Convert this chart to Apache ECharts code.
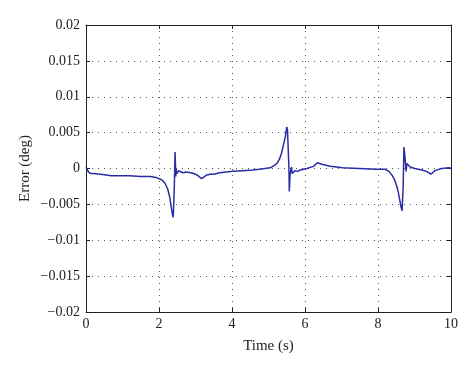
<!DOCTYPE html>
<html><head><meta charset="utf-8">
<script src="https://cdn.jsdelivr.net/npm/echarts@6/dist/echarts.min.js"></script>
<style>html,body{margin:0;padding:0;background:#fff}#c{width:474px;height:372px}</style>
</head><body><div id="c"></div>
<script>
// Time samples (s) and error values (deg)
var time = [0, 0.04, 0.07, 0.1, 0.13, 0.2, 0.4, 0.7, 1.2, 1.5, 1.76, 1.95, 2.08, 2.17, 2.24, 2.29, 2.33, 2.36, 2.39, 2.42, 2.44, 2.45, 2.46, 2.47, 2.49, 2.54, 2.6, 2.67, 2.75, 2.86, 2.95, 3.04, 3.17, 3.31, 3.4, 3.5, 3.66, 4.02, 4.3, 4.57, 4.75, 4.9, 5.05, 5.15, 5.23, 5.3, 5.36, 5.41, 5.46, 5.5, 5.52, 5.56, 5.57, 5.59, 5.63, 5.65, 5.73, 5.8, 5.87, 6.05, 6.23, 6.34, 6.46, 6.69, 7.03, 7.49, 7.94, 8.19, 8.3, 8.38, 8.45, 8.51, 8.56, 8.6, 8.63, 8.66, 8.69, 8.71, 8.73, 8.77, 8.79, 8.88, 9.01, 9.2, 9.33, 9.45, 9.56, 9.74, 9.95, 10];
var errorDeg = [0.0002, 0.0001, -0.0005, -0.0003, -0.0007, -0.0007, -0.0008, -0.001, -0.001, -0.0011, -0.0011, -0.0013, -0.0016, -0.0021, -0.0029, -0.0039, -0.0052, -0.0062, -0.0068, -0.0025, 0.0023, 0.0008, -0.0011, -0.0001, -0.0007, -0.0003, -0.0005, -0.0006, -0.0005, -0.0006, -0.0007, -0.0009, -0.0014, -0.0009, -0.0008, -0.0008, -0.0006, -0.0004, -0.0003, -0.0002, -0.0001, 0.0, 0.0001, 0.0004, 0.0007, 0.0013, 0.0022, 0.0033, 0.0044, 0.0058, 0.0054, 0.0, -0.0032, -0.0009, 0.0002, -0.0007, -0.0003, -0.0004, -0.0002, 0.0, 0.0003, 0.0008, 0.0006, 0.0003, 0.0001, 0.0, -0.0001, -0.0001, -0.0004, -0.0009, -0.0015, -0.0024, -0.0034, -0.0045, -0.0053, -0.0059, -0.0025, 0.003, 0.0021, -0.0004, 0.0007, 0.0002, 0.0, -0.0002, -0.0004, -0.0008, -0.0003, 0.0, 0.0001, 0.0];
var xTicks = [0, 2, 4, 6, 8, 10];
var yTicks = [-0.02, -0.015, -0.01, -0.005, 0, 0.005, 0.01, 0.015, 0.02];

var pts = time.map(function (t, i) { return [t, errorDeg[i]]; });
var font = '"Liberation Serif","DejaVu Serif",serif';
function yfmt(v) { var r = parseFloat(v.toFixed(3)); return r < 0 ? '\u2212' + Math.abs(r) : String(r); }
var tickStyle = { show: true, inside: true, length: 4, lineStyle: { color: '#222' } };
var lineStyle = { show: true, onZero: false, lineStyle: { color: '#222', width: 1 } };
var gridDots = { show: true, lineStyle: { type: [1, 5], color: '#555', width: 1 } };

var chart = echarts.init(document.getElementById('c'), null, { renderer: 'canvas' });
chart.setOption({
  animation: false,
  backgroundColor: '#fff',
  grid: { left: 86, top: 25, right: 23, bottom: 60 },
  xAxis: [{
    type: 'value', min: xTicks[0], max: xTicks[xTicks.length - 1], interval: 2,
    name: 'Time (s)', nameLocation: 'middle', nameGap: 27,
    nameTextStyle: { fontFamily: font, fontSize: 15, color: '#222' },
    axisLine: lineStyle, axisTick: tickStyle, splitLine: gridDots,
    axisLabel: { fontFamily: font, fontSize: 14, color: '#222', margin: 5 }
  }, {
    type: 'value', position: 'top', min: 0, max: 10, interval: 2,
    axisLine: lineStyle, axisTick: tickStyle, splitLine: { show: false }, axisLabel: { show: false }
  }],
  yAxis: [{
    type: 'value', min: yTicks[0], max: yTicks[yTicks.length - 1], interval: 0.005,
    name: 'Error (deg)', nameLocation: 'middle', nameGap: 53, nameRotate: 90, nameMoveOverlap: false,
    nameTextStyle: { fontFamily: font, fontSize: 15, color: '#222' },
    axisLine: lineStyle, axisTick: tickStyle, splitLine: gridDots,
    axisLabel: { fontFamily: font, fontSize: 14, color: '#222', margin: 6, formatter: yfmt }
  }, {
    type: 'value', position: 'right', min: -0.02, max: 0.02, interval: 0.005,
    axisLine: lineStyle, axisTick: tickStyle, splitLine: { show: false }, axisLabel: { show: false }
  }],
  series: [{
    type: 'line', data: pts, showSymbol: false, symbol: 'none',
    lineStyle: { color: '#2a2ca6', width: 1.5 }, xAxisIndex: 0, yAxisIndex: 0
  }]
});
</script></body></html>
